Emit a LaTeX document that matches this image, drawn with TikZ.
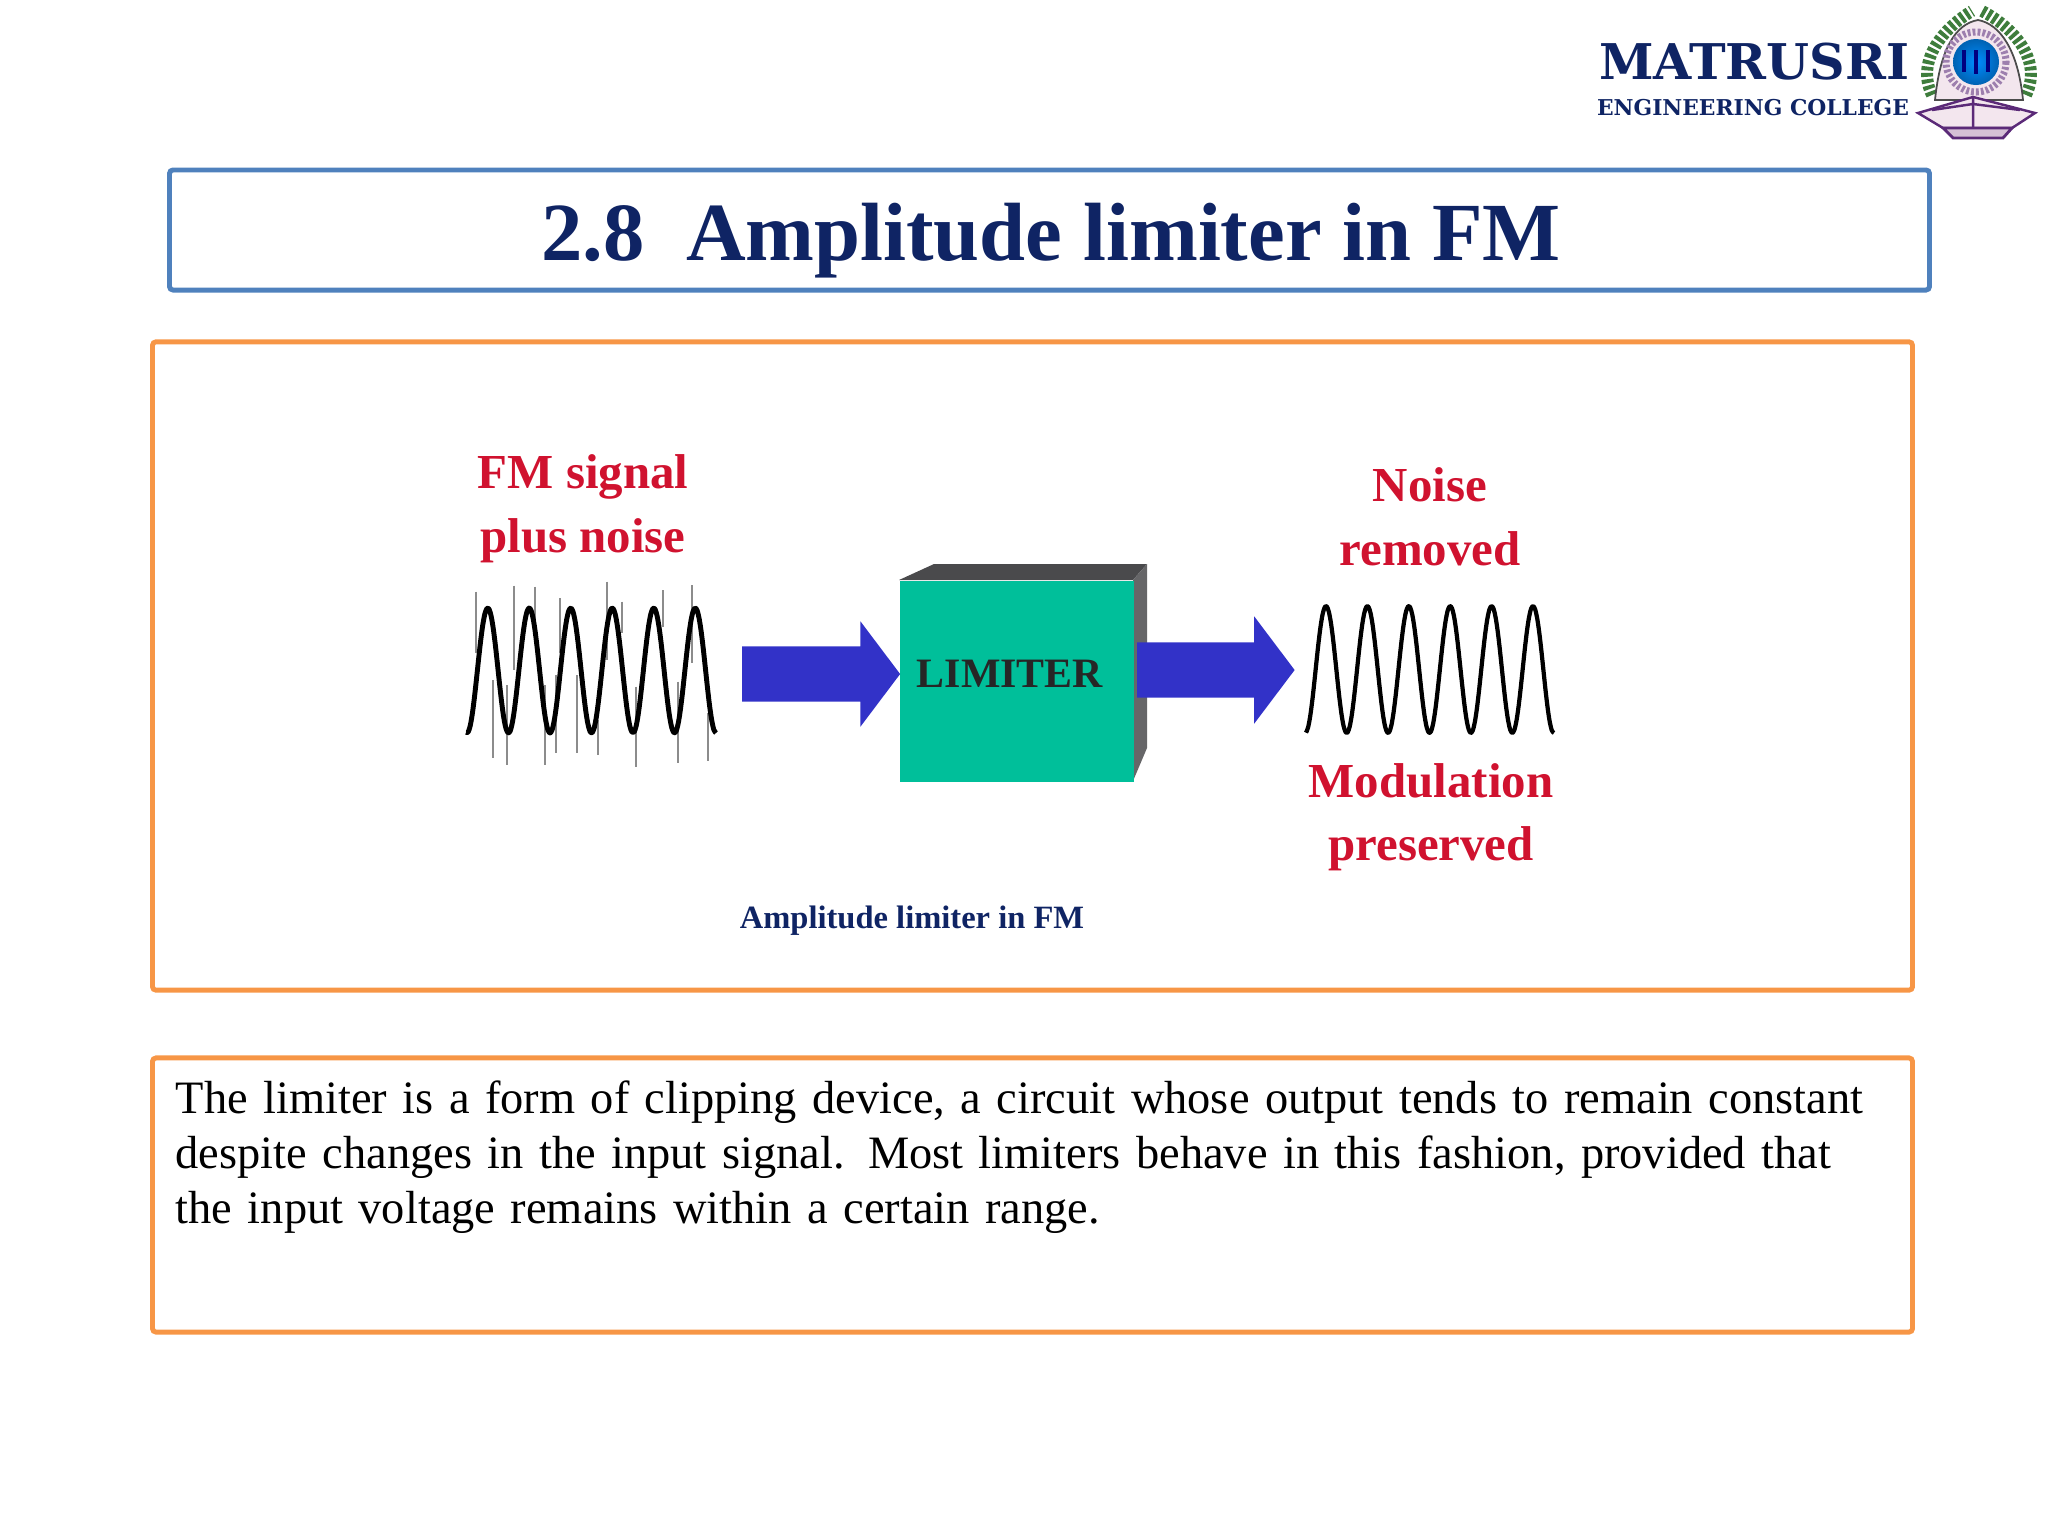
\documentclass[tikz,border=0pt]{standalone}
\usepackage{fontspec}
\setmainfont{Liberation Serif}
\newfontfamily\slabfont{DejaVu Serif}
\usetikzlibrary{shapes.arrows,positioning,calc}
\definecolor{navytext}{HTML}{0F2464}
\definecolor{framebl}{HTML}{4F81BD}
\definecolor{frameor}{HTML}{F79646}
\definecolor{labelred}{HTML}{D0122F}
\definecolor{arrowbl}{HTML}{3232C8}
\definecolor{blockgr}{HTML}{00BF9A}
\definecolor{blockdk}{HTML}{4A4A4C}
\definecolor{blocksd}{HTML}{666668}
\definecolor{noisegr}{HTML}{8C8C8C}
\definecolor{leafgr}{HTML}{3E7D3C}
\definecolor{sealpk}{HTML}{F3E6EE}
\definecolor{sealpu}{HTML}{5B2A78}
\tikzset{
  framebox/.style={draw=frameor, line width=1.4pt, rounded corners=1pt, inner sep=0pt},
  redlabel/.style={text=labelred, font=\fontsize{13.9}{14}\selectfont\bfseries, inner sep=0pt},
  bigarrow/.style={single arrow, fill=arrowbl, inner sep=0pt, single arrow head indent=0pt, anchor=tip,
    text height=0.27cm, text depth=0.27cm, single arrow tip angle=106},
  wave/.style={line width=1.4pt, line join=round, smooth},
  leaves/.style={leafgr, line width=3.4pt, dash pattern=on 1.1pt off 0.7pt},
}
\begin{document}
\begin{tikzpicture}[x=0.01cm, y=-0.01cm]
  \useasboundingbox (0,0) rectangle (2048,1536);
  % frames
  \node[framebox, draw=framebl, minimum width=17.59cm, minimum height=1.2cm] (titlebox) at (1049.5,230) {};
  \node[framebox, minimum width=17.59cm, minimum height=6.48cm] (diagbox) at (1032.5,666) {};
  \node[framebox, minimum width=17.59cm, minimum height=2.74cm] (textbox) at (1032.5,1195) {};
  % heading
  \node[text=navytext, font=\fontsize{23.5}{24}\selectfont\bfseries, inner sep=0pt] (title) at (1051,241) {2.8\ \ Amplitude limiter in FM};
  \node[text=navytext, font=\fontsize{9.25}{10}\selectfont\bfseries, inner sep=0pt] (caption) at (912,921) {Amplitude limiter in FM};
  \node[anchor=north west, inner sep=0pt, font=\fontsize{13.2}{15.6}\selectfont, text width=17.5cm, align=left] (para) at (175,1080)
    {The limiter is a form of clipping device, a circuit whose output tends to remain constant\\
     despite changes in the input signal. Most limiters behave in this fashion, provided that\\
     the input voltage remains within a certain range.};
  % logo
  \node[text=navytext, font=\fontsize{14}{15}\slabfont\bfseries, inner sep=0pt] (mname) at (1754,62) {MATRUSRI};
  \node[text=navytext, font=\fontsize{6.2}{7}\slabfont\bfseries, inner sep=0pt] (mcoll) at (1753,108) {ENGINEERING COLLEGE};
  \draw[leaves] (1932,95) .. controls (1915,60) and (1945,27) .. (1972,11);
  \draw[leaves] (2026,95) .. controls (2043,60) and (2013,27) .. (1982,11);
  \filldraw[fill=sealpk, draw=black!70, line width=0.5pt] (1935,100) .. controls (1940,50) and (1955,24) .. (1978,20) .. controls (2000,24) and (2018,50) .. (2023,100) -- cycle;
  \draw[sealpu!60, line width=2pt, dash pattern=on 0.8pt off 0.6pt] (1976,62) circle (30);
  \shade[inner color=blue!45!cyan, outer color=blue!45!cyan!70!black] (1976,62) circle (23);
  \draw[blue!50!black, line width=1.2pt] (1976,50) -- (1976,74) (1964,50) -- (1964,72) (1988,50) -- (1988,72);
  \filldraw[fill=sealpk, draw=sealpu, line width=0.7pt] (1918,113) -- (1973,97) -- (2035,113) -- (2012,128) -- (1943,128) -- cycle;
  \draw[sealpu, line width=0.7pt] (1932,110) -- (1973,104) -- (2020,110) (1973,97) -- (1973,128);
  \filldraw[fill=sealpk!80!sealpu, draw=sealpu, line width=0.8pt] (1943,128) -- (2012,128) -- (2003,138) -- (1953,138) -- cycle;
  % block
  \fill[blockdk] (899,580) -- (934,564) -- (1147,564) -- (1133,580) -- cycle;
  \fill[blocksd] (1133,580) -- (1147,564) -- (1147,748) -- (1133,781) -- cycle;
  \node[fill=blockgr, minimum width=2.34cm, minimum height=2.01cm, inner sep=0pt, anchor=north west] (limiter) at (899,580) {};
  \node[inner sep=0pt, font=\fontsize{11.9}{13}\selectfont\bfseries, text=black!85] (limtxt) at (1010,674) {LIMITER};
  % arrows
  \node[bigarrow, minimum width=1.04cm, minimum height=1.58cm, single arrow head extend=0.25cm] (arrowin) at (901,674) {};
  \node[bigarrow, minimum width=1.06cm, minimum height=1.575cm, single arrow head extend=0.26cm] (arrowout) at (1295.5,670) {};
  % input wave with noise
  \foreach \nx/\ntop/\nbot in {108/515/700,222/497/750,285/500/620,360/535/700,500/485/720,545/545/640,668/510/620,755/495/730,
    160/780/1015,202/795/1035,315/795/1035,348/765/998,411/765/998,475/900/1005,587/800/1040,713/785/1028,803/880/1022}
    \draw[noisegr, line width=0.6pt] ({440+\nx/3},{420+\ntop/3}) -- ({440+\nx/3},{420+\nbot/3});
  \draw[wave] plot[domain=466:716, samples=120] (\x,{670.5+62.5*cos((\x-467)/41.5*360)});
  \draw[wave, line width=1.2pt] plot[domain=1306:1554, samples=120] (\x,{669.5+63.5*cos((\x-1305.3)/41.4*360)});
  % labels
  \node[redlabel] (fmlbl) at (583,477) {FM signal};
  \node[redlabel] (pluslbl) at (583,541) {plus noise};
  \node[redlabel] (noiselbl) at (1430,485) {Noise};
  \node[redlabel] (remlbl) at (1430,549) {removed};
  \node[redlabel] (modlbl) at (1431,781) {Modulation};
  \node[redlabel] (preslbl) at (1431,849) {preserved};
\end{tikzpicture}
\end{document}
